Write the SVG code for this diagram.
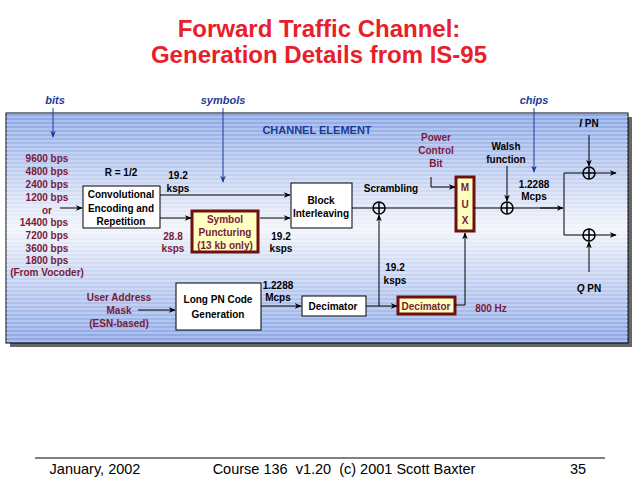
<svg xmlns="http://www.w3.org/2000/svg" width="638" height="478" viewBox="0 0 638 478">
<style>
text{font-family:"Liberation Sans",Arial,sans-serif;font-weight:bold;font-size:10px;text-anchor:middle}
.dr{fill:#7a1a3a}.bl{fill:#1a3a9a}.k{fill:#000}
.box{fill:#fff;stroke:#000;stroke-width:1}
.hb{fill:#ffffc0;stroke:#6e1010;stroke-width:3}
.ln{stroke:#000;stroke-width:1;fill:none}
.bln{stroke:#1a3aa0;stroke-width:1;fill:none}
.x{fill:none;stroke:#000;stroke-width:1.5}
.ft{font-weight:normal;font-size:14.5px}
</style>
<defs>
<marker id="a" viewBox="0 0 10 10" refX="9" refY="5" markerWidth="7" markerHeight="7" orient="auto"><path d="M0,1 L10,5 L0,9 L3,5z" fill="#000"/></marker>
<marker id="b" viewBox="0 0 10 10" refX="9" refY="5" markerWidth="7" markerHeight="7" orient="auto"><path d="M0,1 L10,5 L0,9 L3,5z" fill="#1a3aa0"/></marker>
<linearGradient id="g" x1="0" y1="0" x2="0" y2="1"><stop offset="0" stop-color="#8aa6e6"/><stop offset="0.5" stop-color="#f2f4fa"/><stop offset="1" stop-color="#8aa6e6"/></linearGradient>
<pattern id="s" width="4" height="4" patternUnits="userSpaceOnUse"><rect width="4" height="2" fill="#fff" opacity="0.25"/></pattern>
</defs>
<rect width="638" height="478" fill="#fff"/>
<text x="319" y="37" style="font-size:24px;fill:#e8202a">Forward Traffic Channel:</text>
<text x="319" y="63" style="font-size:24px;fill:#e8202a">Generation Details from IS-95</text>
<rect x="10" y="117" width="622" height="230" fill="#666"/>
<rect x="6" y="113" width="622" height="230" fill="url(#g)" stroke="#000"/>
<rect x="6" y="113" width="622" height="230" fill="url(#s)"/>
<text x="55" y="104" class="bl" style="font-style:italic;font-size:11px">bits</text>
<text x="223" y="104" class="bl" style="font-style:italic;font-size:11px">symbols</text>
<text x="534" y="104" class="bl" style="font-style:italic;font-size:11px">chips</text>
<text x="317" y="134" class="bl" style="font-size:11px">CHANNEL ELEMENT</text>
<g id="rates" class="dr">
<text x="47" y="162" class="dr">9600 bps</text><text x="47" y="175" class="dr">4800 bps</text>
<text x="47" y="188" class="dr">2400 bps</text><text x="47" y="201" class="dr">1200 bps</text>
<text x="47" y="214" class="dr">or</text><text x="44" y="226" class="dr">14400 bps</text>
<text x="47" y="239" class="dr">7200 bps</text><text x="47" y="252" class="dr">3600 bps</text>
<text x="47" y="264" class="dr">1800 bps</text><text x="47" y="276" class="dr">(From Vocoder)</text>
</g>
<text x="121" y="176">R = 1/2</text>
<text x="178" y="179">19.2</text><text x="178" y="192">ksps</text>
<text x="173" y="240" class="dr">28.8</text><text x="173" y="252" class="dr">ksps</text>
<text x="281" y="240">19.2</text><text x="281" y="252">ksps</text>
<text x="391" y="192">Scrambling</text>
<text x="436" y="141" class="dr">Power</text><text x="436" y="154" class="dr">Control</text><text x="436" y="167" class="dr">Bit</text>
<text x="506" y="150">Walsh</text><text x="506" y="163">function</text>
<text x="534" y="188">1.2288</text><text x="534" y="200">Mcps</text>
<text x="589" y="127"><tspan style="font-style:italic">I</tspan>  PN</text>
<text x="589" y="292"><tspan style="font-style:italic">Q</tspan>  PN</text>
<text x="395" y="271">19.2</text><text x="395" y="284">ksps</text>
<text x="278" y="289">1.2288</text><text x="278" y="301">Mcps</text>
<text x="119" y="301" class="dr">User Address</text><text x="119" y="314" class="dr">Mask</text><text x="119" y="327" class="dr">(ESN-based)</text>
<text x="491" y="312" class="dr">800 Hz</text>
<g id="conv"><rect class="box" x="83" y="186" width="77" height="42"/><text x="121" y="198">Convolutional</text><text x="121" y="212">Encoding and</text><text x="121" y="225">Repetition</text></g>
<g id="punct"><rect class="hb" x="192" y="211" width="66" height="41"/><text x="225" y="223" class="dr">Symbol</text><text x="225" y="236" class="dr">Puncturing</text><text x="225" y="249" class="dr">(13 kb only)</text></g>
<g id="block"><rect class="box" x="291" y="183" width="61" height="45"/><text x="321" y="204">Block</text><text x="321" y="217">Interleaving</text></g>
<g id="mux"><rect class="hb" x="456" y="177" width="18" height="54"/><text x="465" y="191" class="dr">M</text><text x="465" y="208" class="dr">U</text><text x="465" y="224" class="dr">X</text></g>
<g id="lpn"><rect class="box" x="176" y="283" width="85" height="47"/><text x="218" y="303">Long PN Code</text><text x="218" y="318">Generation</text></g>
<g id="dec1"><rect class="box" x="302" y="296" width="64" height="20"/><text x="333" y="310">Decimator</text></g>
<g id="dec2"><rect class="hb" x="398" y="297" width="57" height="17"/><text x="426" y="310" class="dr">Decimator</text></g>
<g id="xors" class="x">
<circle cx="379" cy="208" r="6"/><path d="M373,208h12M379,202v12"/>
<circle cx="507" cy="208" r="6"/><path d="M501,208h12M507,202v12"/>
<circle cx="589" cy="173" r="6"/><path d="M583,173h12M589,167v12"/>
<circle cx="589" cy="235" r="6"/><path d="M583,235h12M589,229v12"/>
</g>
<g id="connectors">
<path class="bln" d="M53,108V137" marker-end="url(#b)"/>
<path class="bln" d="M223,108V182" marker-end="url(#b)"/>
<path class="bln" d="M534,108V172" marker-end="url(#b)"/>
<path class="ln" d="M60,208H82" marker-end="url(#a)"/>
<path class="ln" d="M160,195H290" marker-end="url(#a)"/>
<path class="ln" d="M160,218H191" marker-end="url(#a)"/>
<path class="ln" d="M260,218H290" marker-end="url(#a)"/>
<path class="ln" d="M352,208H373M385,208H456M474,208H501M513,208H562"/>
<path class="ln" d="M540,208H563" marker-end="url(#a)"/>
<path class="ln" d="M431,177V187H455" marker-end="url(#a)"/>
<path class="ln" d="M507,166V201" marker-end="url(#a)"/>
<path class="ln" d="M564,173V235"/>
<path class="ln" d="M564,173H583M595,173H616" marker-end="url(#a)"/>
<path class="ln" d="M564,235H583M595,235H616" marker-end="url(#a)"/>
<path class="ln" d="M589,135V166" marker-end="url(#a)"/>
<path class="ln" d="M589,272V242" marker-end="url(#a)"/>
<path class="ln" d="M138,310H175" marker-end="url(#a)"/>
<path class="ln" d="M261,306H301" marker-end="url(#a)"/>
<path class="ln" d="M366,306H397" marker-end="url(#a)"/>
<path class="ln" d="M379,306V215" marker-end="url(#a)"/>
<path class="ln" d="M455,305H465V233" marker-end="url(#a)"/>
</g>
<path d="M35,458H605" stroke="#000"/>
<text x="95" y="474" class="ft">January, 2002</text>
<text x="344" y="474" class="ft" xml:space="preserve">Course 136  v1.20  (c) 2001 Scott Baxter</text>
<text x="578" y="474" class="ft">35</text>
</svg>
